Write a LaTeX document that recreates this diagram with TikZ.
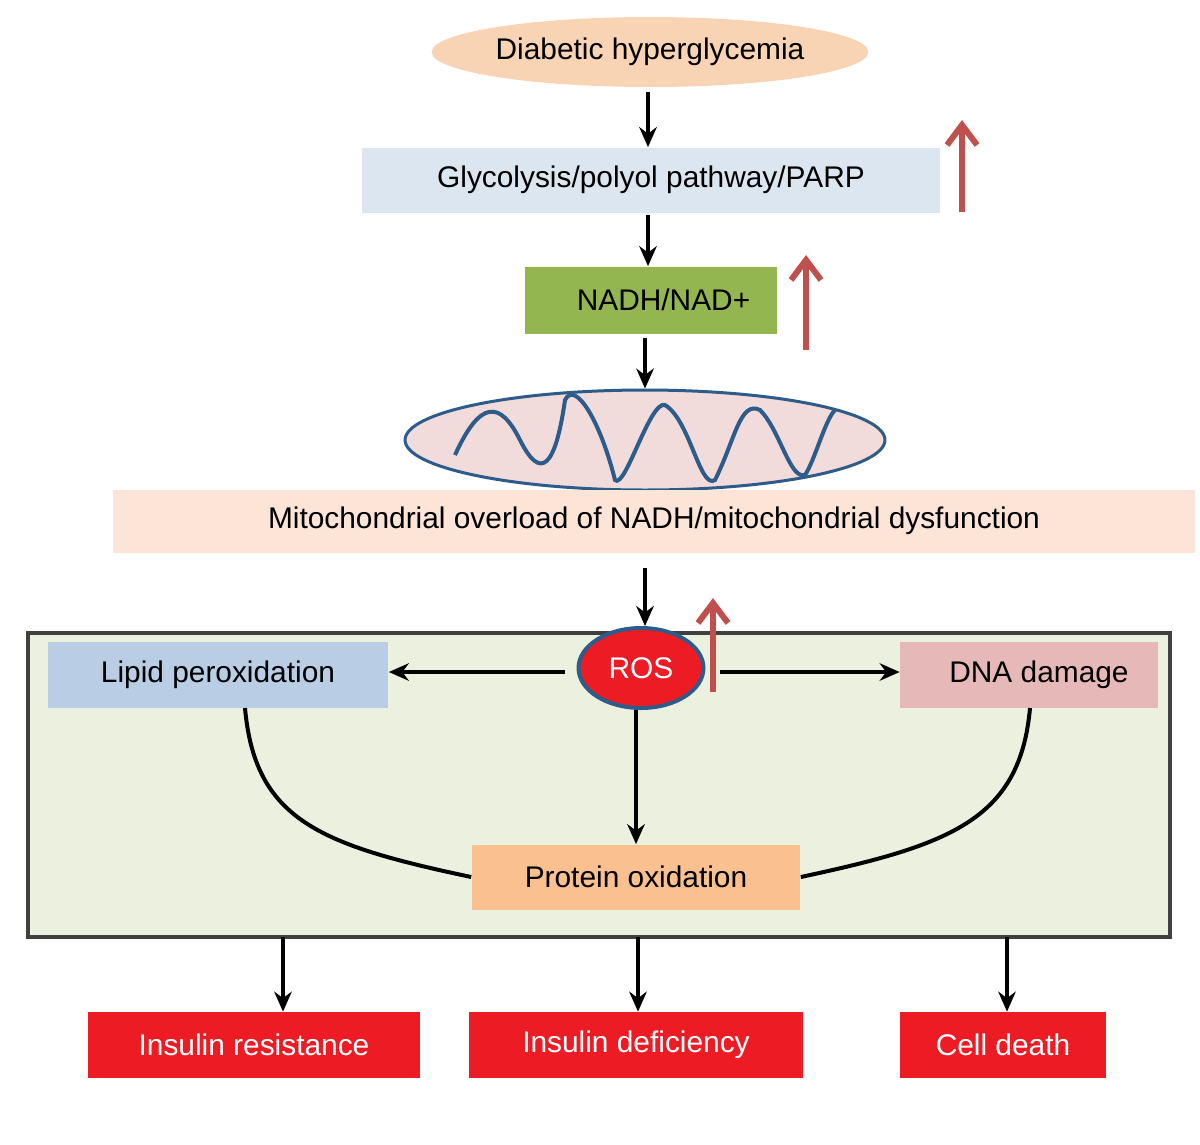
\documentclass[tikz,border=0pt]{standalone}
\usepackage{fontspec}
\setmainfont{Liberation Sans}
\usetikzlibrary{shapes.geometric,arrows.meta}
\definecolor{peach}{HTML}{F8D3B4}
\definecolor{paleblue}{HTML}{DCE6F1}
\definecolor{nadgreen}{HTML}{93B650}
\definecolor{mitopink}{HTML}{F2DCDB}
\definecolor{mitoblue}{HTML}{2E5C8A}
\definecolor{bandpeach}{HTML}{FCE4D6}
\definecolor{panelgreen}{HTML}{EBF1DE}
\definecolor{lipidblue}{HTML}{B9CDE5}
\definecolor{dnapink}{HTML}{E6B9B8}
\definecolor{protorange}{HTML}{FAC090}
\definecolor{upred}{HTML}{C0504D}
\definecolor{outred}{HTML}{ED1C24}
\tikzset{
  flow/.style={-{Stealth[length=4mm,width=3.5mm]},line width=0.8mm},
  up/.style={-{Straight Barb[length=4mm,width=6mm]},upred,line width=1.2mm},
  box/.style={rectangle,inner sep=0pt,font=\fontsize{17}{20}\selectfont},
  outcome/.style={box,fill=outred,text=white,minimum height=1.32cm}
}
\begin{document}
\begin{tikzpicture}[x=0.02cm,y=-0.02cm]
    \useasboundingbox (0,0) rectangle (1200,1144);
    \node[box,ellipse,fill=peach,minimum width=8.6cm,minimum height=1.4cm] (hyper) at (650,52) {Diabetic hyperglycemia};
    \node[box,fill=paleblue,minimum width=11.56cm,minimum height=1.3cm] (glyco) at (651,180) {Glycolysis/polyol pathway/PARP};
    \node[box,fill=nadgreen,minimum width=5.04cm,minimum height=1.34cm] (nadh) at (651,300) {\hspace{0.5cm}NADH/NAD+};
    \node[ellipse,draw=mitoblue,line width=0.6mm,fill=mitopink,minimum width=9.6cm,minimum height=2cm] (mito) at (645,440) {};
    \draw[mitoblue,line width=0.8mm] (455,455) .. controls (480,400) and (500,400) .. (520,440)
        .. controls (540,480) and (555,470) .. (565,400)
        .. controls (575,380) and (600,420) .. (615,480)
        .. controls (625,490) and (650,400) .. (665,405)
        .. controls (690,420) and (700,490) .. (715,480)
        .. controls (735,440) and (740,400) .. (760,410)
        .. controls (780,430) and (790,480) .. (805,475)
        .. controls (815,460) and (825,420) .. (835,410);
    \node[box,fill=bandpeach,minimum width=21.66cm,minimum height=1.26cm] (overload) at (654,521) {Mitochondrial overload of NADH/mitochondrial dysfunction};
    \coordinate (c1) at (648,92);
    \coordinate (c2) at (648,215);
    \coordinate (c3) at (645,338);
    \coordinate (c4) at (645,568);
    \draw[flow] (c1) -- (c1 |- glyco.north);
    \draw[flow] (c2) -- (c2 |- nadh.north);
    \draw[flow] (c3) -- (c3 |- mito.north);
    \coordinate (topmark) at (962,120);
    \coordinate (topfoot) at (962,212);
    \draw[up] (topfoot) -- (topmark);
    \coordinate (nadmark) at (806,255);
    \coordinate (nadfoot) at (806,350);
    \draw[up] (nadfoot) -- (nadmark);
    \begin{scope}
        \node[rectangle,draw=black!75,line width=0.8mm,fill=panelgreen,minimum width=22.84cm,minimum height=6.08cm] (panel) at (599,785) {};
        \node[box,fill=lipidblue,minimum width=6.82cm,minimum height=1.32cm] (lipid) at (218,675) {Lipid peroxidation};
        \node[box,fill=dnapink,minimum width=5.16cm,minimum height=1.32cm] (dna) at (1029,675) {\hspace{0.4cm}DNA damage};
        \node[box,fill=protorange,minimum width=6.58cm,minimum height=1.3cm] (protein) at (636,877) {Protein oxidation};
        \node[box,ellipse,draw=mitoblue,line width=0.8mm,fill=outred,text=white,minimum width=2.5cm,minimum height=1.6cm] (ros) at (641,668) {ROS};
        \draw[flow] (c4) -- (c4 |- ros.north);
        \coordinate (rl) at (565,672);
        \coordinate (rr) at (720,672);
        \coordinate (rd) at (636,710);
        \draw[flow] (rl) -- (rl -| lipid.east);
        \draw[flow] (rr) -- (rr -| dna.west);
        \draw[flow] (rd) -- (rd |- protein.north);
        \coordinate (rosmark) at (713,598);
        \coordinate (rosfoot) at (713,692);
        \draw[up] (rosfoot) -- (rosmark);
        \draw[line width=0.8mm] (245,708) .. controls (255,820) and (320,845) .. (protein.west);
        \draw[line width=0.8mm] (1030,708) .. controls (1020,820) and (950,845) .. (protein.east);
    \end{scope}
    \node[outcome,minimum width=6.66cm] (resist) at (254,1045) {Insulin resistance};
    \node[outcome,minimum width=6.7cm] (defic) at (636,1045) {Insulin deficiency};
    \node[outcome,minimum width=4.14cm] (death) at (1003,1045) {Cell death};
    \coordinate (o1) at (283,937);
    \coordinate (o2) at (638,937);
    \coordinate (o3) at (1007,937);
    \draw[flow] (o1) -- (o1 |- resist.north);
    \draw[flow] (o2) -- (o2 |- defic.north);
    \draw[flow] (o3) -- (o3 |- death.north);
\end{tikzpicture}
\end{document}
